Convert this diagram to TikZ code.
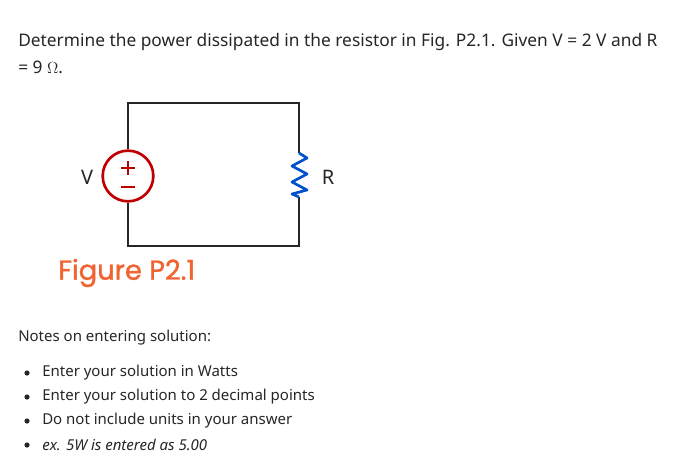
\documentclass[tikz,border=0pt]{standalone}
\usepackage{fontspec}
\setmainfont{Noto Sans}
\newfontfamily\figfont[FakeBold=1.2]{Poppins}
\begin{document}
\begin{tikzpicture}[x=0.75pt,y=-0.75pt,
  wire/.style={line width=2.2pt,black!85},
  txt/.style={anchor=west,inner sep=0pt,font=\fontsize{13pt}{15pt}\selectfont,text=black!85},
  btxt/.style={anchor=west,inner sep=0pt,font=\fontsize{11.25pt}{13pt}\selectfont,text=black!85},
  lbl/.style={font=\fontsize{15pt}{15pt}\selectfont,text=black!85}]
\useasboundingbox (0,0) rectangle (680,471);
\node[txt] (t1) at (18,42) {Determine the power dissipated in the resistor in Fig. P2.1. Given V = 2 V and R};
\node[txt] (t2) at (18,67) {= 9 $\Omega$.};
\coordinate (tl) at (128,103);
\coordinate (tr) at (299,103);
\coordinate (br) at (299,246);
\coordinate (bl) at (128,246);
\coordinate (rtop) at (299,153);
\coordinate (rbot) at (299,197);
\node[circle,draw=red!75!black,line width=2pt,minimum size=38pt,inner sep=0pt] (src) at (128,176) {};
\draw[wire] (src.north) -- (tl) -- (tr) -- (rtop);
\draw[wire] (rbot) -- (br) -- (bl) -- (src.south);
\draw[line width=2pt,blue!60!cyan!80!black,line join=round] (rtop) -- (307,158) -- (292,166) -- (307,174) -- (292,182) -- (307,190) -- (292,194) -- (rbot);
\draw[red!75!black,line width=1pt] (121,168) -- (135,168) (128,161) -- (128,175);
\draw[red!75!black,line width=1pt] (121,187) -- (135,187);
\node[lbl] (vl) at (87,177) {V};
\node[lbl] (rl) at (328,177) {R};
\node[anchor=west,inner sep=0pt,font=\figfont\fontsize{20.5pt}{20pt}\selectfont,text={rgb,255:red,240;green,100;blue,50}] (fig) at (58,273) {Figure P2.1};
\node[btxt] (n) at (18,338) {Notes on entering solution:};
\foreach \y/\t in {373/Enter your solution in Watts,397/Enter your solution to 2 decimal points,421/Do not include units in your answer,445/{\itshape ex. 5W is entered as 5.00}}{
  \fill[black!85] (27,\y) circle (2.6);
  \node[btxt] at (42,\y) {\t};
}
\end{tikzpicture}
\end{document}
